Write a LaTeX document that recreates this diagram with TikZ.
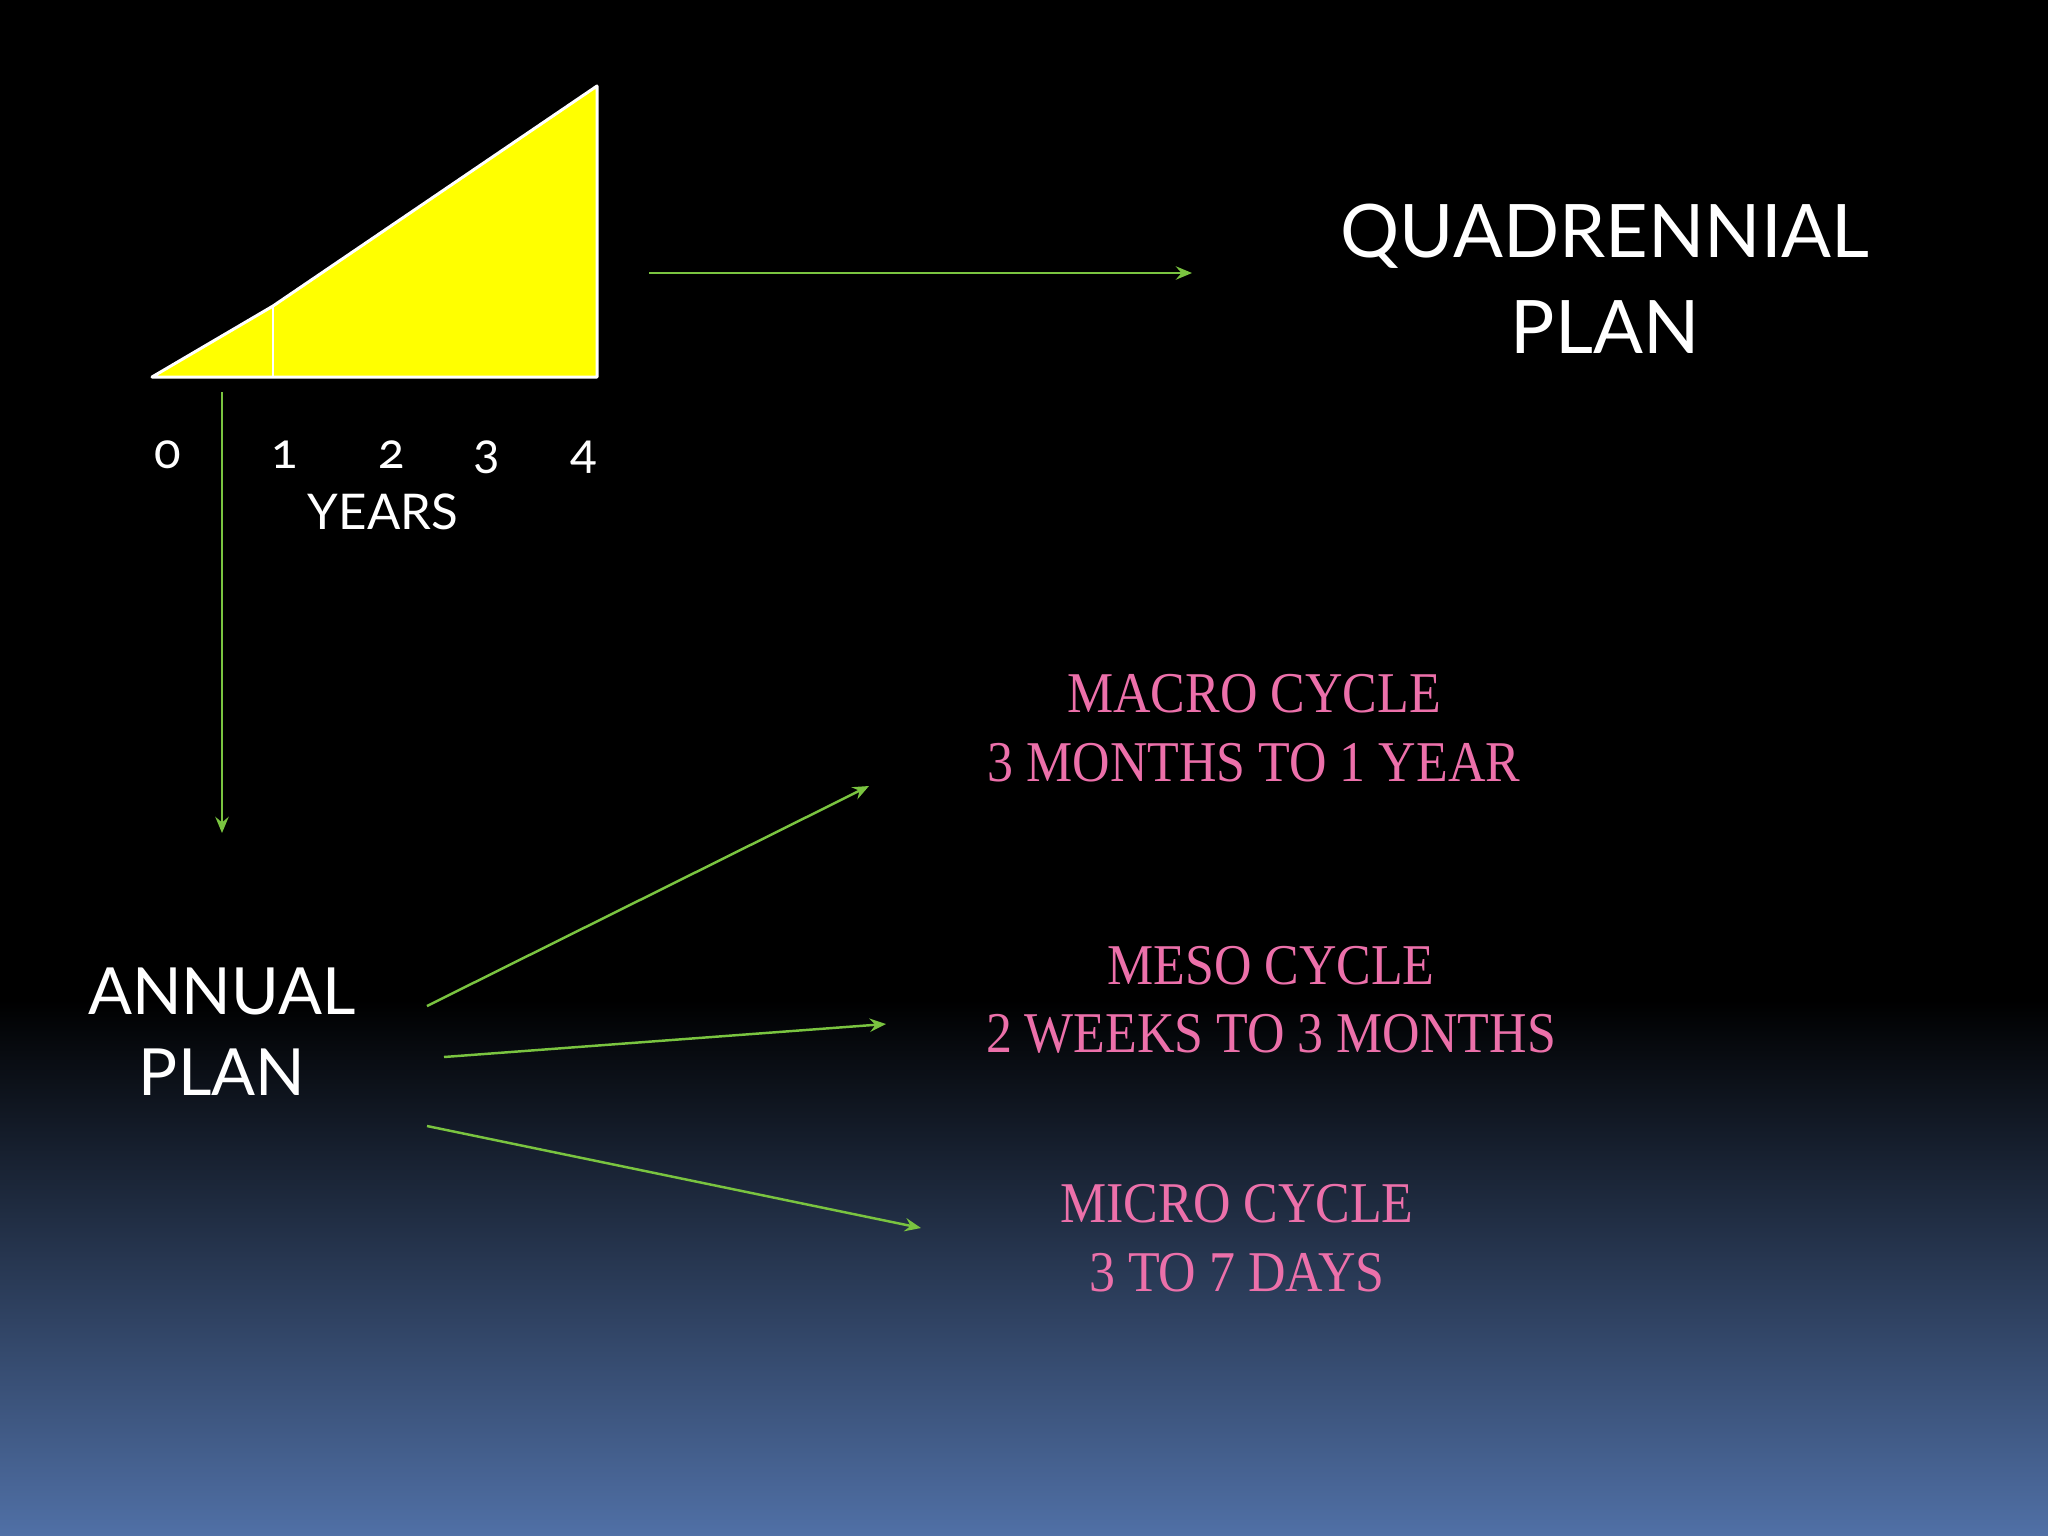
\documentclass[tikz,border=0pt]{standalone}
\usepackage{fontspec}
\setmainfont{Lato}
\newfontfamily\numfont[Numbers=OldStyle]{Lato}
\newfontfamily\pinkfont[FakeStretch=0.9]{Liberation Serif}
\usetikzlibrary{arrows.meta}
\definecolor{bgblue}{RGB}{80,112,166}
\definecolor{arrowgreen}{RGB}{122,196,64}
\definecolor{cyclepink}{RGB}{236,112,170}
\definecolor{triyellow}{RGB}{255,255,0}
\tikzset{
  link/.style={draw=arrowgreen, line width=0.7pt, -{Stealth[length=4.6pt,width=3.8pt,inset=1.6pt]}},
  whitetext/.style={text=white, inner sep=0pt, align=center},
  bigtext/.style={whitetext, font=\fontsize{21pt}{27.3pt}\selectfont},
  annualtext/.style={whitetext, font=\fontsize{18.5pt}{23pt}\selectfont},
  axistext/.style={text=white, inner sep=0pt, anchor=base, font=\numfont\fontsize{14pt}{17pt}\selectfont},
  cycletext/.style={text=cyclepink, inner sep=0pt, align=center, font=\pinkfont\fontsize{16.4pt}{19.5pt}\selectfont},
  triedge/.style={draw=white, line width=0.85pt}
}
\begin{document}
\begin{tikzpicture}[x=0.01cm, y=-0.01cm]
\useasboundingbox (0,0) rectangle (2048,1536);
\fill[black] (0,0) rectangle (2048,1536);
\shade[top color=black, bottom color=bgblue] (0,1000) rectangle (2048,1536);

% triangle
\coordinate (tip) at (152,377);
\coordinate (kink) at (273,306);
\coordinate (tr) at (597,86);
\coordinate (br) at (597,377);
\coordinate (kb) at (273,377);
\fill[triyellow] (tip) -- (kink) -- (tr) -- (br) -- cycle;
\draw[triedge, line join=round] (tip) -- (kink) -- (tr) -- (br) -- cycle;
\draw[triedge] (kink) -- (kb);

% axis labels
\node[axistext] (n0) at (168,468) {0};
\node[axistext] (n1) at (285,468) {1};
\node[axistext] (n2) at (392,468) {2};
\node[axistext] (n3) at (487,468) {3};
\node[axistext] (n4) at (584,468) {4};
\node[axistext, font=\fontsize{14pt}{17pt}\selectfont] (years) at (383,529) {YEARS};

% texts
\node[bigtext] (quad) at (1605,279) {QUADRENNIAL\\PLAN};
\node[annualtext] (annual) at (222,1032) {ANNUAL\\PLAN};
\node[cycletext] (macro) at (1254,728) {MACRO CYCLE\\3 MONTHS TO 1 YEAR};
\node[cycletext] (meso) at (1271,1000) {MESO CYCLE\\2 WEEKS TO 3 MONTHS};
\node[cycletext] (micro) at (1237,1238) {MICRO CYCLE\\3 TO 7 DAYS};

% arrow end points
\coordinate (h1) at (649,273);
\coordinate (h2) at (1192,273);
\coordinate (v1) at (222,392);
\coordinate (v2) at (222,833);
\coordinate (a1s) at (427,1006);
\coordinate (a1e) at (869,786);
\coordinate (a2s) at (444,1057);
\coordinate (a2e) at (886,1024);
\coordinate (a3s) at (427,1126);
\coordinate (a3e) at (921,1228);

\draw[link] (h1) -- (h2);
\draw[link] (v1) -- (v2);
\draw[link] (a1s) -- (a1e);
\draw[link] (a2s) -- (a2e);
\draw[link] (a3s) -- (a3e);
\end{tikzpicture}
\end{document}
